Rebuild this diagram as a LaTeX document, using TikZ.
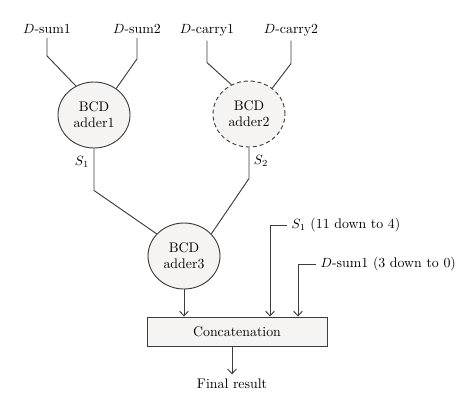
\documentclass[tikz,border=0pt]{standalone}
\usepackage{amsmath}
\usepackage{tikz}
\usetikzlibrary{
  arrows.meta,
  positioning,
  shapes.geometric
}
\definecolor{wirecol}{HTML}{3C3C3C}
\definecolor{fillcol}{HTML}{F6F4F2}

\begin{document}
\begin{tikzpicture}[
  x=0.75pt, y=-0.75pt,
  every node/.style={font=\fontsize{10.4}{12.2}\selectfont, text=black},
  adder/.style={draw=wirecol, fill=fillcol, ellipse, line width=0.7pt, align=center,
    minimum width=54pt, minimum height=49.5pt, inner sep=0pt},
  box/.style={draw=wirecol, fill=fillcol, line width=0.7pt,
    minimum width=135pt, minimum height=21.75pt, inner sep=0pt},
  wire/.style={draw=wirecol, line width=0.7pt},
  arr/.style={wire, -{Straight Barb[length=3.5pt, width=6.5pt]}}
]
\useasboundingbox (0,0) rectangle (474,412);

% Inputs
\node[anchor=base] (ds1) at (47,33) {$D$-sum1};
\node[anchor=base] (ds2) at (137,33) {$D$-sum2};
\node[anchor=base] (dc1) at (207,33) {$D$-carry1};
\node[anchor=base] (dc2) at (291,33) {$D$-carry2};

% Adders
\node[adder] (ad1) at (94,115) {BCD\\adder1};
\node[adder, dash pattern=on 3pt off 2.2pt] (ad2) at (249,114) {BCD\\adder2};
\node[adder] (ad3) at (184,256) {BCD\\adder3};

% Concatenation and result
\node[box] (cat) at (237,331.5) {Concatenation};
\node (res) at (232,384) {Final result};

% Side inputs
\node[anchor=west] (s1in) at (287,225) {$S_1$ (11 down to 4)};
\node[anchor=west] (dsin) at (316,264) {$D$-sum1 (3 down to 0)};

% Wires
\draw[wire] (ds1.south) -- ++(0,18) -- (ad1.122);
\draw[wire] (ds2.south) -- ++(0,21) -- (ad1.50);
\draw[wire] (dc1.south) -- ++(0,22) -- (ad2.121);
\draw[wire] (dc2.south) -- ++(0,23) -- (ad2.48);
\draw[wire] (ad1.south) -- node[pos=0.33, left] (s1) {$S_1$} ++(0,42) -- (ad3.141);
\draw[wire] (ad2.south) -- node[pos=0.45, right] (s2) {$S_2$} ++(0,31) -- (ad3.39);

% Arrows
\draw[arr] (ad3.south) -- (ad3.south |- cat.north);
\draw[arr] (s1in.west) -| ([xshift=24.75pt]cat.north);
\draw[arr] (dsin.west) -| ([xshift=45.75pt]cat.north);
\draw[arr] (res.north |- cat.south) -- (res.north);

\end{tikzpicture}
\end{document}
